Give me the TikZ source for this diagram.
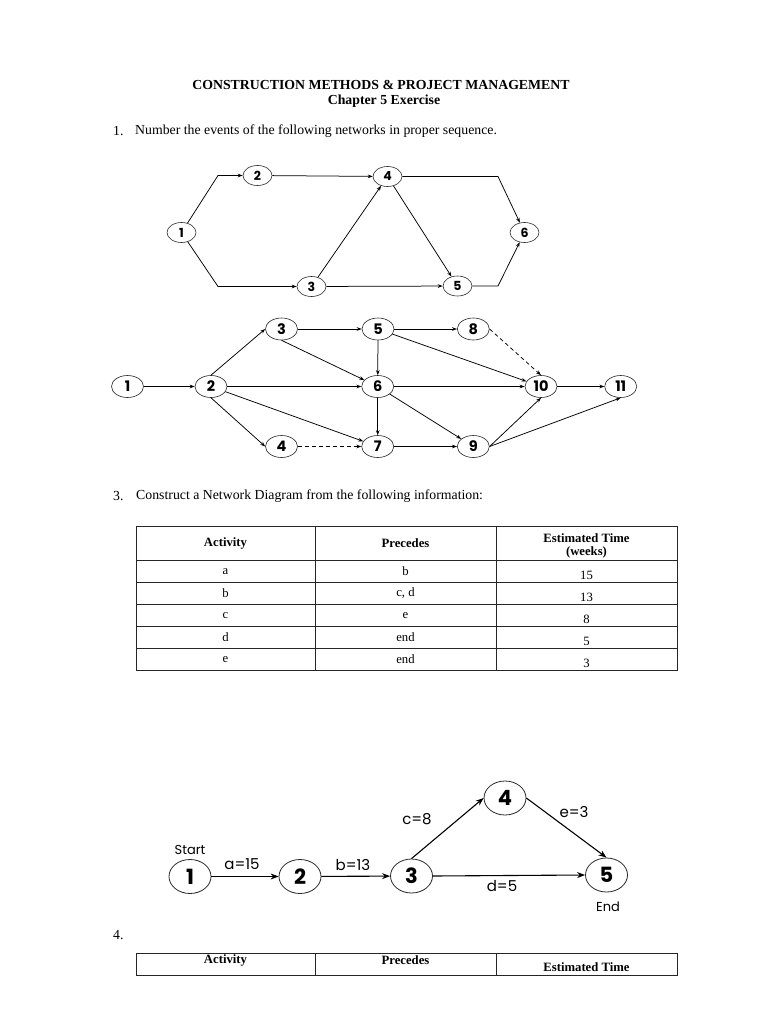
\documentclass[tikz,border=0pt]{standalone}
\usepackage{fontspec}
\setmainfont{Liberation Serif}
\newfontfamily\gothic{Poppins}
\usetikzlibrary{shapes.geometric,arrows.meta}
\tikzset{
  ev/.style={ellipse, draw=black!85, line width=0.6pt, inner sep=0pt, fill=white},
  evA/.style={ev, minimum width=29pt, minimum height=20pt, font=\gothic\bfseries\fontsize{12.5}{12.5}\selectfont},
  evB/.style={ev, minimum width=32pt, minimum height=22pt, font=\gothic\bfseries\fontsize{14.5}{14.5}\selectfont},
  evC/.style={ev, line width=0.8pt, minimum width=42pt, minimum height=34pt, font=\gothic\bfseries\fontsize{21}{21}\selectfont},
  arr/.style={-{Stealth[length=5pt,width=3.6pt]}, line width=0.75pt},
  arrdash/.style={arr, dash pattern=on 4pt off 3pt},
  arrbig/.style={-{Stealth[length=8pt,width=6pt]}, line width=1.1pt},
  txt/.style={font=\fontsize{13.8}{15}\selectfont, inner sep=0pt},
  hd/.style={font=\bfseries\fontsize{13.8}{15}\selectfont, inner sep=0pt},
  cell/.style={font=\fontsize{12.7}{14}\selectfont, inner sep=0pt},
  cellhd/.style={font=\bfseries\fontsize{12.7}{13.5}\selectfont, inner sep=0pt, align=center},
  glab/.style={font=\gothic\fontsize{15}{15}\selectfont, inner sep=0pt},
  glabs/.style={font=\gothic\fontsize{13}{13}\selectfont, inner sep=0pt},
  tline/.style={line width=0.7pt, draw=black!85}
}
\begin{document}
\begin{tikzpicture}[x=1pt,y=-1pt]
\fill[white] (0,0) rectangle (768,1024);
\useasboundingbox (0,0) rectangle (768,1024);

% header
\node[hd] (title) at (381,85) {CONSTRUCTION METHODS \& PROJECT MANAGEMENT};
\node[hd] (chap) at (384,101) {Chapter 5 Exercise};
\node[txt, anchor=west] (q1n) at (113,131) {1.};
\node[txt, anchor=west] (q1) at (135,131) {Number the events of the following networks in proper sequence.};

% network 1
\node[evA] (a1) at (181.5,232.5) {1};
\node[evA] (a2) at (257.5,175.5) {2};
\node[evA] (a4) at (387.5,176.5) {4};
\node[evA] (a6) at (524.5,232.5) {6};
\node[evA] (a3) at (311.5,286.5) {3};
\node[evA] (a5) at (457.5,286) {5};
\coordinate (c12) at (218,175.5);
\coordinate (c13) at (218,286.5);
\coordinate (c46) at (498,176.5);
\coordinate (c56) at (498,286);
\draw[arr] (a1) -- (c12) -- (a2);
\draw[arr] (a1) -- (c13) -- (a3);
\draw[arr] (a2) -- (a4);
\draw[arr] (a3) -- (a4);
\draw[arr] (a4) -- (a5);
\draw[arr] (a3) -- (a5);
\draw[arr] (a4) -- (c46) -- (a6);
\draw[arr] (a5) -- (c56) -- (a6);

% network 2
\node[evB] (b1) at (127.5,386.5) {1};
\node[evB] (b2) at (211,386.5) {2};
\node[evB] (b3) at (281.5,329) {3};
\node[evB] (b5) at (378,329) {5};
\node[evB] (b8) at (473.3,329) {8};
\node[evB] (b6) at (377.7,386.5) {6};
\node[evB] (b10) at (541,386.5) {10};
\node[evB] (b11) at (620.7,386.5) {11};
\node[evB] (b4) at (281.5,446.5) {4};
\node[evB] (b7) at (377.7,446.5) {7};
\node[evB] (b9) at (473.3,446.5) {9};
\draw[arr] (b1) -- (b2);
\draw[arr] (b2.north) -- (b3.west);
\draw[arr] (b2) -- (b6);
\draw[arr] (b2) -- (b7);
\draw[arr] (b2.south) -- (b4.west);
\draw[arr] (b3) -- (b5);
\draw[arr] (b3.south) -- (b6);
\draw[arr] (b5) -- (b8);
\draw[arr] (b5) -- (b6);
\draw[arr] (b5) -- (b10);
\draw[arrdash] (b8.east) -- (b10.north);
\draw[arr] (b6) -- (b10);
\draw[arr] (b6) -- (b7);
\draw[arr] (b6) -- (b9);
\draw[arrdash] (b4) -- (b7);
\draw[arr] (b7) -- (b9);
\draw[arr] (b9.east) -- (b10.south);
\draw[arr] (b9.east) -- (b11.south);
\draw[arr] (b10) -- (b11);

% question 3
\node[txt, anchor=west] (q3n) at (113,496) {3.};
\node[txt, anchor=west] (q3) at (136,496) {Construct a Network Diagram from the following information:};

% table 3
\draw[tline] (136,526) rectangle (677,670);
\foreach \yy in {560,582,604,626,648} \draw[tline] (136,\yy) -- (677,\yy);
\draw[tline] (315,526) -- (315,670);
\draw[tline] (496,526) -- (496,670);
\node[cellhd] (h1) at (225.5,543.5) {Activity};
\node[cellhd] (h2) at (405.5,543.5) {Precedes};
\node[cellhd] (h3) at (586.5,546) {Estimated Time\\(weeks)};
\node[cell] (r1a) at (225.5,571.5) {a};
\node[cell] (r1b) at (405.5,571.5) {b};
\node[cell] (r1c) at (586.5,575) {15};
\node[cell] (r2a) at (225.5,593.5) {b};
\node[cell] (r2b) at (405.5,593.5) {c, d};
\node[cell] (r2c) at (586.5,597) {13};
\node[cell] (r3a) at (225.5,615.5) {c};
\node[cell] (r3b) at (405.5,615.5) {e};
\node[cell] (r3c) at (586.5,619) {8};
\node[cell] (r4a) at (225.5,637.5) {d};
\node[cell] (r4b) at (405.5,637.5) {end};
\node[cell] (r4c) at (586.5,641) {5};
\node[cell] (r5a) at (225.5,659.5) {e};
\node[cell] (r5b) at (405.5,659.5) {end};
\node[cell] (r5c) at (586.5,663) {3};

% network 3
\node[evC] (d1) at (190,876.5) {1};
\node[evC] (d2) at (300,876.5) {2};
\node[evC] (d3) at (411.5,876) {3};
\node[evC] (d4) at (505,798) {4};
\node[evC] (d5) at (606.5,875) {5};
\draw[arrbig] (d1) -- (d2);
\draw[arrbig] (d2) -- (d3);
\draw[arrbig] (d3.north) -- (d4.west);
\draw[arrbig] (d4.east) -- (d5.north);
\draw[arrbig] (d3.east) -- (d5.west);
\node[glabs] (lstart) at (190,850) {Start};
\node[glab] (la) at (242,864) {a=15};
\node[glab] (lb) at (353,865) {b=13};
\node[glab] (lc) at (417,819) {c=8};
\node[glab] (le) at (574,812) {e=3};
\node[glab] (ld) at (502,886) {d=5};
\node[glabs] (lend) at (608,907) {End};

% question 4
\node[txt, anchor=west] (q4n) at (113,935.5) {4.};
\draw[tline] (136,953) rectangle (677,975);
\draw[tline] (315,953) -- (315,975);
\draw[tline] (496,953) -- (496,975);
\node[cellhd] (t1) at (225.5,960.5) {Activity};
\node[cellhd] (t2) at (405.5,960.5) {Precedes};
\node[cellhd] (t3) at (586.5,967) {Estimated Time};
\end{tikzpicture}
\end{document}
